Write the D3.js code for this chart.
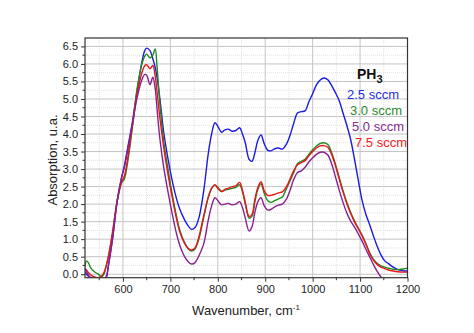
<!DOCTYPE html>
<html><head><meta charset="utf-8">
<script src="https://cdn.jsdelivr.net/npm/d3@7"></script>
<style>
html,body{margin:0;padding:0;background:#fff;}
svg{display:block;font-family:"Liberation Sans",Arial,sans-serif;}
</style></head>
<body>
<svg id="chart" width="474" height="333"></svg>
<script>
const wavenumbers = [520,523,527,532,540,548,555,560,565,570,578,588,597,603,610,620,630,640,646,650,657,663,668,672,678,686,695,705,713,720,730,738,745,752,760,770,780,787,794,800,808,815,822,830,838,846,852,858,866,872,878,884,891,898,905,912,920,928,936,945,952,960,968,976,984,992,1000,1008,1016,1024,1032,1040,1048,1056,1064,1072,1080,1088,1096,1104,1112,1120,1128,1136,1144,1152,1160,1170,1180,1190,1200];

const s25 = [0.05,0.0,-0.05,-0.1,-0.15,-0.2,-0.2,-0.18,-0.1,0.3,1.0,2.1,2.75,3.1,3.6,4.35,5.25,6.05,6.38,6.45,6.38,6.15,5.9,5.6,5.0,4.05,3.3,2.6,2.15,1.85,1.55,1.37,1.28,1.33,1.6,2.35,3.45,4.0,4.32,4.22,4.05,4.12,4.14,4.08,4.1,4.18,4.0,3.75,3.28,3.22,3.45,3.8,3.97,3.72,3.54,3.52,3.58,3.6,3.57,3.72,3.95,4.3,4.6,4.64,4.66,4.92,5.15,5.4,5.54,5.6,5.55,5.38,5.18,4.95,4.6,4.25,3.85,3.3,2.7,2.12,1.72,1.42,1.1,0.8,0.55,0.38,0.3,0.2,0.13,0.1,0.09];

const s30 = [0.2,0.38,0.33,0.18,0.07,0.0,-0.07,0.0,0.25,0.55,1.15,2.1,2.6,2.72,3.2,4.2,5.3,6.0,6.22,6.28,6.17,6.25,6.43,5.9,4.85,3.8,3.0,2.2,1.65,1.25,0.9,0.72,0.66,0.72,1.0,1.6,2.2,2.45,2.55,2.48,2.36,2.4,2.42,2.45,2.48,2.55,2.35,2.0,1.6,1.65,2.05,2.4,2.58,2.3,2.1,2.05,2.1,2.15,2.2,2.45,2.65,2.9,3.15,3.22,3.28,3.42,3.55,3.66,3.73,3.75,3.7,3.47,3.14,2.76,2.38,2.05,1.77,1.53,1.32,1.12,0.88,0.62,0.43,0.31,0.24,0.2,0.17,0.14,0.13,0.15,0.17];

const s50 = [0.15,0.07,-0.02,-0.1,-0.15,-0.2,-0.2,-0.15,-0.05,0.3,1.0,2.1,2.75,3.05,3.55,4.3,5.05,5.55,5.7,5.68,5.41,5.62,5.3,4.7,3.85,3.05,2.35,1.65,1.15,0.82,0.5,0.35,0.29,0.33,0.52,0.85,1.55,1.95,2.18,2.1,1.98,2.0,2.02,1.98,2.0,2.07,1.9,1.6,1.23,1.35,1.75,2.05,2.18,1.95,1.83,1.85,1.92,1.97,2.0,2.15,2.38,2.7,2.9,2.95,3.05,3.2,3.32,3.42,3.48,3.48,3.4,3.15,2.78,2.4,2.05,1.75,1.52,1.35,1.16,0.95,0.72,0.5,0.28,0.08,-0.08,-0.2,-0.3,-0.35,-0.4,-0.4,-0.4];

const s75 = [0.17,0.12,0.05,-0.02,-0.08,-0.1,-0.05,0.05,0.25,0.55,1.2,2.1,2.62,2.8,3.3,4.25,5.15,5.75,5.95,5.98,5.86,5.96,5.65,5.2,4.45,3.62,2.85,2.12,1.58,1.2,0.88,0.73,0.69,0.75,1.05,1.65,2.2,2.45,2.55,2.45,2.36,2.42,2.45,2.5,2.52,2.62,2.4,2.05,1.65,1.7,2.12,2.45,2.64,2.38,2.25,2.25,2.28,2.32,2.35,2.5,2.7,2.95,3.12,3.18,3.24,3.38,3.5,3.6,3.66,3.67,3.62,3.42,3.1,2.72,2.35,2.02,1.74,1.5,1.3,1.1,0.86,0.6,0.4,0.28,0.2,0.16,0.12,0.09,0.07,0.06,0.06];

const seriesNames = ["2.5 sccm","3.0 sccm","5.0 sccm","7.5 sccm"];
const seriesColors = ["#1a1ae6","#1f8a1f","#8a1f8f","#e8151b"];
const legendColors = ["#1f2ee8","#2a8a2a","#8a2a92","#ee1c24"];
const drawOrder = [0,1,3,2];
const xTicks = [600,700,800,900,1000,1100,1200];
const yTicks = [0,0.5,1,1.5,2,2.5,3,3.5,4,4.5,5,5.5,6,6.5];

const allSeries = [s25,s30,s50,s75];

const svg = d3.select("#chart");
const L=85, R=407.5, T=38, B=277.7;
const x = d3.scaleLinear().domain([520,1200]).range([L,R]);
const y = d3.scaleLinear().domain([-0.1,6.74]).range([B,T]);

const g = svg.append("g");
const xMinor = d3.range(550,1200,100);
const yMinor = d3.range(0.25,6.74,0.5);
g.selectAll(".xm").data(xMinor).join("line")
 .attr("x1",d=>x(d)).attr("x2",d=>x(d)).attr("y1",T).attr("y2",B)
 .attr("stroke","#e0e0e0").attr("stroke-width",1).attr("stroke-dasharray","1,1");
g.selectAll(".ym").data(yMinor).join("line")
 .attr("y1",d=>y(d)).attr("y2",d=>y(d)).attr("x1",L).attr("x2",R)
 .attr("stroke","#e0e0e0").attr("stroke-width",1).attr("stroke-dasharray","1,1");
g.selectAll(".xg").data(xTicks.filter(v=>v<1200)).join("line")
 .attr("x1",d=>x(d)).attr("x2",d=>x(d)).attr("y1",T).attr("y2",B)
 .attr("stroke","#c4c4c4").attr("stroke-width",1);
g.selectAll(".yg").data(yTicks).join("line")
 .attr("y1",d=>y(d)).attr("y2",d=>y(d)).attr("x1",L).attr("x2",R)
 .attr("stroke","#c4c4c4").attr("stroke-width",1);

svg.append("clipPath").attr("id","clip").append("rect")
 .attr("x",L).attr("y",T).attr("width",R-L).attr("height",B-T);

const line = d3.line().x((d,i)=>x(wavenumbers[i])).y(d=>y(d)).curve(d3.curveCatmullRom.alpha(0.5));
const lg = svg.append("g").attr("clip-path","url(#clip)");
drawOrder.forEach(k=>{
  lg.append("path").datum(allSeries[k]).attr("d",line)
   .attr("fill","none").attr("stroke",seriesColors[k]).attr("stroke-width",1.4);
});

svg.append("rect").attr("x",L).attr("y",T).attr("width",R-L).attr("height",B-T)
 .attr("fill","none").attr("stroke","#333").attr("stroke-width",1.2);

const xAxis = d3.axisBottom(x).tickValues(xTicks).tickSize(4).tickPadding(4).tickFormat(d3.format("d"));
const xa = svg.append("g").attr("transform",`translate(0,${B})`).call(xAxis);
const yAxis = d3.axisLeft(y).tickValues(yTicks).tickSize(4).tickPadding(3).tickFormat(d3.format(".1f"));
const ya = svg.append("g").attr("transform",`translate(${L},0)`).call(yAxis);
[xa,ya].forEach(a=>{
  a.select(".domain").remove();
  a.selectAll("line").attr("stroke","#333");
  a.selectAll("text").attr("fill","#222").style("font-size","11px").style("font-family","Liberation Sans, Arial, sans-serif");
});
svg.append("g").selectAll("line").data(d3.range(550,1200,100)).join("line")
 .attr("x1",d=>x(d)).attr("x2",d=>x(d)).attr("y1",B).attr("y2",B+2.5).attr("stroke","#333");
svg.append("g").selectAll("line").data(d3.range(0.25,6.74,0.5)).join("line")
 .attr("y1",d=>y(d)).attr("y2",d=>y(d)).attr("x1",L).attr("x2",L-2.5).attr("stroke","#333");

const xt = svg.append("text").attr("x",246).attr("y",315).attr("text-anchor","middle")
 .attr("fill","#222").style("font-size","13px");
xt.append("tspan").text("Wavenumber, cm");
xt.append("tspan").attr("dy",-5).style("font-size","8px").text("-1");

svg.append("text").attr("transform","translate(57,160) rotate(-90)").attr("text-anchor","middle")
 .attr("fill","#222").style("font-size","13px").text("Absorption, u.a.");

const leg = svg.append("g");
const ph = leg.append("text").attr("x",357).attr("y",79).attr("fill","#111")
 .style("font-size","14px").style("font-weight","bold");
ph.append("tspan").text("PH");
ph.append("tspan").attr("dy",4).style("font-size","11px").text("3");
const legX = [347,350,352,355];
const legY = [99.3,115,130.8,146.6];
seriesNames.forEach((n,i)=>{
  leg.append("text").attr("x",legX[i]).attr("y",legY[i]).attr("fill",legendColors[i])
   .style("font-size","13px").text(n);
});
</script>
</body></html>
